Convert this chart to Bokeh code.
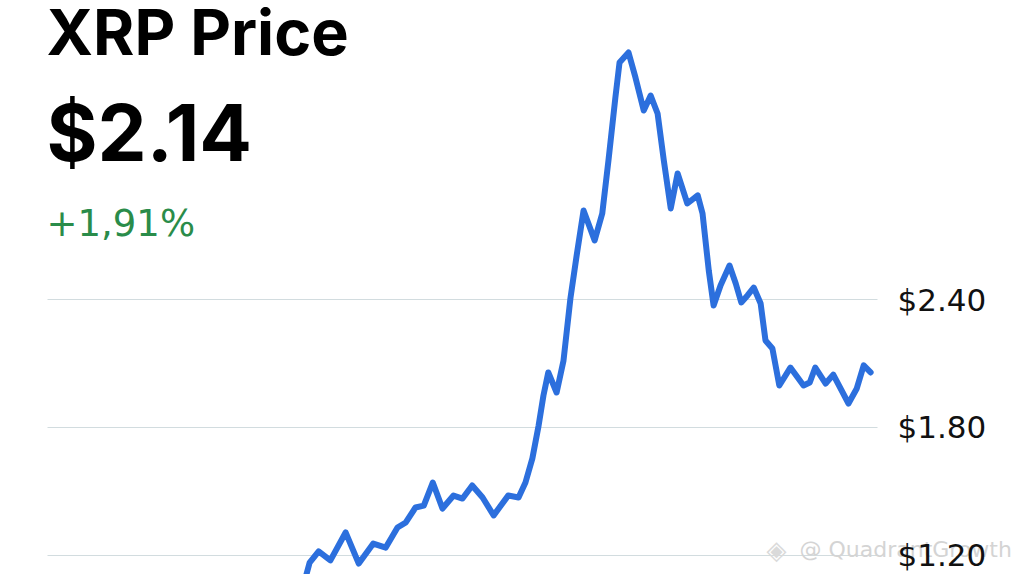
from bokeh.plotting import figure
from bokeh.models import Label, FixedTicker, Grid, Range1d
from bokeh.core.properties import value
from bokeh.embed import file_html
from bokeh.resources import INLINE

# ---- data ----
days = [37.0, 37.9, 39.2, 40.9, 43.1, 45.0, 47.1, 48.9, 50.6, 51.8, 53.2, 54.4,
        55.7, 57.1, 58.7, 60.0, 61.4, 62.9, 64.5, 66.6, 68.1, 69.1, 70.1, 71.0,
        71.7, 72.4, 73.6, 74.6, 75.6, 76.5, 77.5, 79.1, 80.2, 81.1, 82.1, 82.7,
        84.0, 85.0, 86.2, 87.2, 88.2, 89.1, 90.1, 91.1, 92.5, 94.0, 94.7, 95.6,
        96.3, 97.3, 98.6, 99.5, 100.3, 101.2, 102.1, 103.1, 103.8, 104.8, 105.8,
        107.4, 109.3, 110.2, 111.0, 112.5, 113.6, 115.8, 117.0, 118.0, 119.0]
price = [1.059, 1.167, 1.219, 1.177, 1.308, 1.162, 1.256, 1.237, 1.331, 1.355, 1.425, 1.434,
         1.542, 1.420, 1.481, 1.467, 1.528, 1.472, 1.388, 1.481, 1.472, 1.542, 1.655, 1.809,
         1.950, 2.058, 1.964, 2.114, 2.405, 2.606, 2.817, 2.677, 2.803, 3.052, 3.347, 3.511,
         3.558, 3.441, 3.286, 3.356, 3.272, 3.052, 2.827, 2.991, 2.850, 2.888, 2.803, 2.536,
         2.372, 2.466, 2.559, 2.475, 2.386, 2.419, 2.456, 2.381, 2.208, 2.170, 1.997,
         2.081, 1.997, 2.011, 2.081, 2.006, 2.048, 1.9125, 1.983, 2.091, 2.058]
tick_values = [1.20, 1.80, 2.40]
tick_labels = ["$%.2f" % v for v in tick_values]
period = (0, 120)  # days shown by the chart's grid
title_text = "XRP Price"
price_text = "$2.14"
change_text = "+1,91%"
watermark_icon = "\u25c8"
watermark_text = "@ QuadrantGrowth"

FONT = "Inter"
W, H = 1024, 574
PX_PER_DAY = 6.917
PX_PER_USD = 213.33

def dx(px):  # screen px -> day
    return (px - 47) / PX_PER_DAY

def dy(py):  # screen px -> USD
    return 2.40 - (py - 299) / PX_PER_USD

p = figure(width=W, height=H, output_backend="svg", toolbar_location=None,
           x_range=Range1d(dx(0), dx(W)), y_range=Range1d(dy(H), dy(0)),
           x_axis_location=None, y_axis_location=None, min_border=0)
p.grid.visible = False
p.outline_line_color = None
p.background_fill_color = "white"

# horizontal price grid, limited to the chart period
grid_color = "#d2dcdf"
if "cross_bounds" in Grid.properties():
    ticker = FixedTicker(ticks=tick_values)
    p.add_layout(Grid(dimension=1, ticker=ticker, grid_line_color=grid_color,
                      grid_line_width=1, cross_bounds=period))
else:
    p.segment(x0=[period[0]] * len(tick_values), x1=[period[1]] * len(tick_values),
              y0=tick_values, y1=tick_values, line_color=grid_color, line_width=1)

# watermark (under everything else)
p.text(x=[dx(766)], y=[dy(549)], text=[watermark_icon], text_font=value("DejaVu Sans"),
       text_font_size="26px", text_color="#dadada", text_baseline="middle", text_align="left")
p.text(x=[dx(799)], y=[dy(549)], text=[watermark_text], text_font=value("DejaVu Sans"),
       text_font_size="22px", text_color="#d4d4d4", text_baseline="middle", text_align="left")

p.line(days, price, line_width=6, color="#2C6FDD", line_join="round", line_cap="round")

# price axis labels on the right, aligned to the tick values
p.text(x=[dx(897)] * len(tick_values), y=tick_values, text=tick_labels,
       text_font=value("DejaVu Sans"), text_font_size="31px", text_color="#111111",
       text_baseline="middle", text_align="left")

def header(py_base, size, txt, bold, color, font):
    p.add_layout(Label(x=dx(46), y=dy(py_base - 0.38 * size), text=txt, text_font=font,
                       text_font_size="%dpx" % size,
                       text_font_style="bold" if bold else "normal",
                       text_color=color, text_baseline="alphabetic"))

header(55, 63, title_text, True, "#000000", FONT)
header(162, 78, price_text, True, "#000000", FONT)
header(237, 37, change_text, False, "#2A8C4A", "DejaVu Sans")

open("out.html", "w").write(file_html(p, INLINE))
